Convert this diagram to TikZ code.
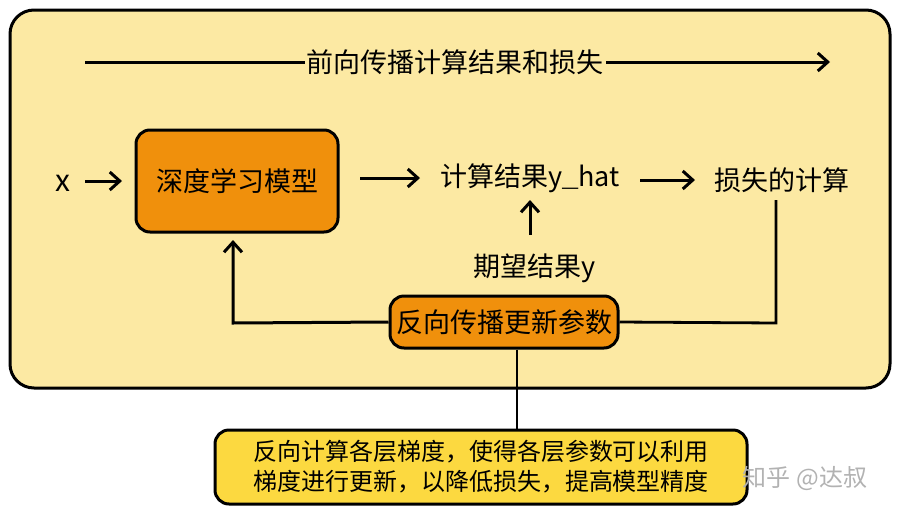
\documentclass[tikz,border=0pt]{standalone}
\usepackage{fontspec}
\setmainfont{Noto Sans CJK SC}
\setmonofont{Liberation Mono}
\usetikzlibrary{arrows.meta}
\definecolor{bgy}{HTML}{FCE9A3}
\definecolor{org}{HTML}{F0900C}
\definecolor{noty}{HTML}{FCD940}
\begin{document}
\begin{tikzpicture}[x=0.5pt,y=-0.5pt,
  arr/.style={line width=1.5pt,-{Straight Barb[length=5pt,width=9pt]}},
  ln/.style={line width=1.4pt},
  obox/.style={draw,line width=1.5pt,fill=org,rounded corners=7pt},
  lbl/.style={font=\fontsize{13.5}{16}\selectfont}]
\useasboundingbox (0,0) rectangle (901,515);
\draw[line width=1.5pt,fill=bgy,rounded corners=12pt] (10,10) rectangle (890,388);
\coordinate (ts) at (85,62); \coordinate (te) at (830,62);
\draw[arr] (ts) -- (te);
\node[lbl,fill=bgy,inner sep=1pt] (top) at (455,62) {前向传播计算结果和损失};
\node[lbl,font=\fontsize{15}{16}\selectfont] (x) at (63,183) {x};
\node[obox,minimum width=101pt,minimum height=51pt,lbl] (model) at (237,181) {深度学习模型};
\node[lbl] (yhat) at (530,178) {计算结果y\texttt{\_}hat};
\node[lbl] (loss) at (782,180) {损失的计算};
\node[lbl] (yexp) at (535,268) {期望结果y};
\node[obox,minimum width=114pt,minimum height=26pt,lbl,inner sep=1pt] (upd) at (504,322) {反向传播更新参数};
\node[draw,line width=1.5pt,fill=noty,rounded corners=7pt,minimum width=266pt,minimum height=37pt,align=left,font=\fontsize{12}{15}\selectfont] (note) at (481,467) {反向计算各层梯度，使得各层参数可以利用\\梯度进行更新，以降低损失，提高模型精度};
\draw[arr] (85,181) -- (122,181);
\draw[arr] (360,178) -- (420,178);
\draw[arr] (640,180) -- (695,180);
\draw[arr] (530,235) -- (530,200);
\draw[ln] (776,200) -- (776,323) -- (upd.east);
\draw[arr] (upd.west) -- (233,323) -- (233,240);
\draw[ln] (upd.south -| 517,0) -- (note.north -| 517,0);
\node[text=gray!60,font=\fontsize{12}{14}\selectfont] (wm) at (805,478) {知乎 @达叔};
\end{tikzpicture}
\end{document}
